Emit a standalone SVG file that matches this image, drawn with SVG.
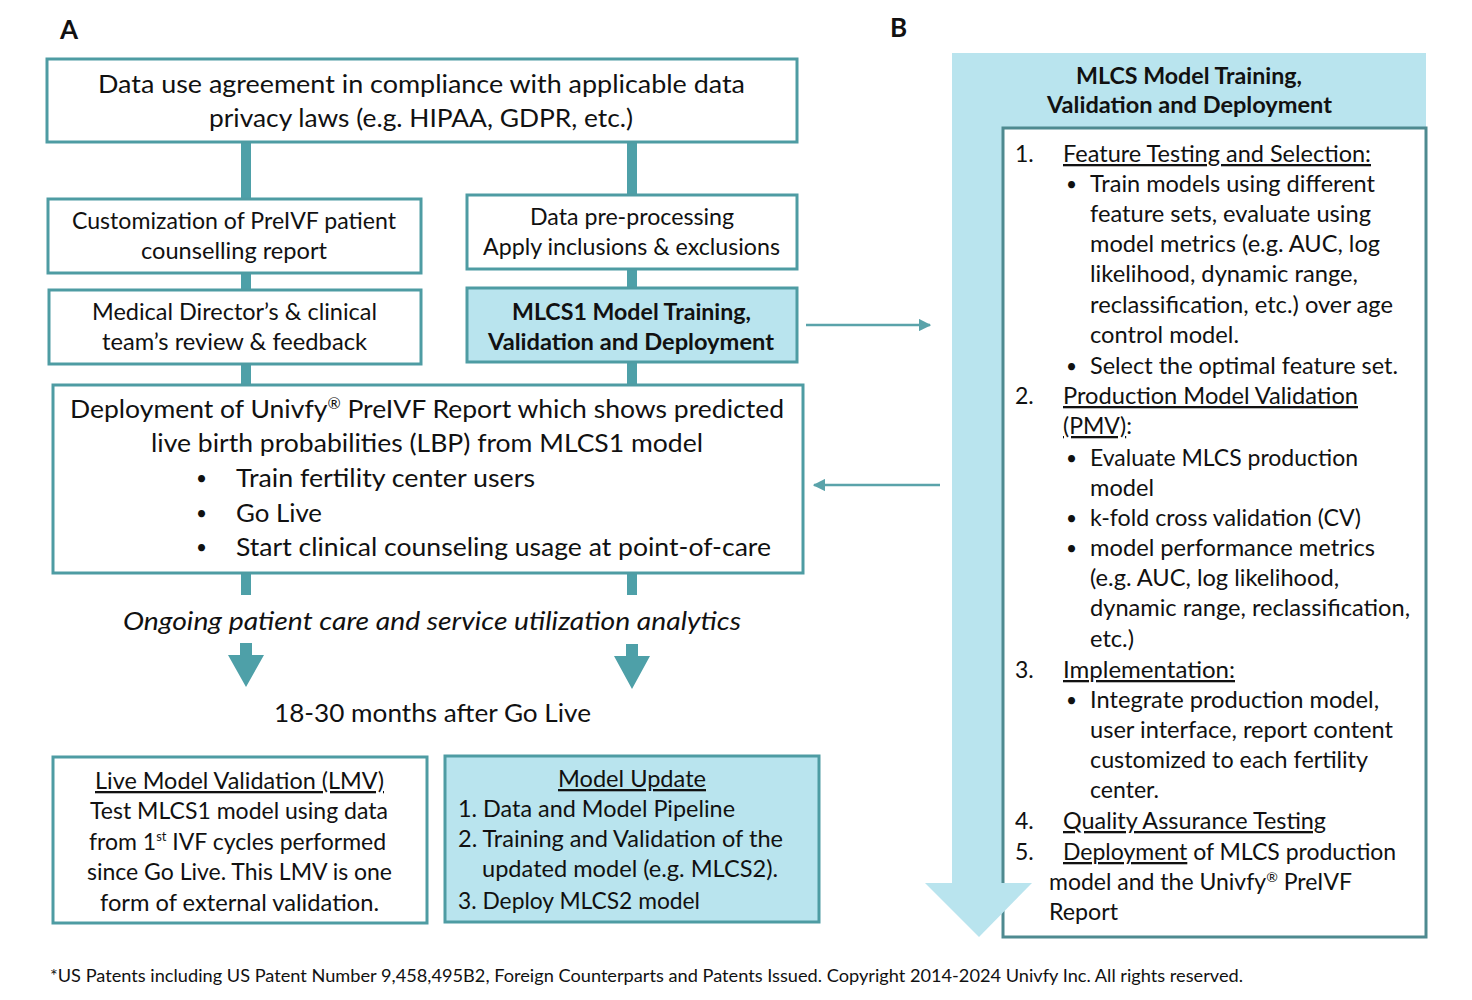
<svg xmlns="http://www.w3.org/2000/svg" width="1472" height="1000" viewBox="0 0 1472 1000">
<defs>
<style>
text{font-family:Lato,"Liberation Sans",sans-serif;fill:#111;}
.box{fill:#fff;stroke:#4e9ca3;stroke-width:3;}
.bbox{fill:#b9e4ee;stroke:#4e9ca3;stroke-width:3;}
.bar{stroke:#4ea0a8;stroke-width:10;fill:none;}
.lbl{font-size:26px;font-weight:bold;}
.t26{font-size:25px;}
.t23{font-size:23px;}
.b23{font-size:23px;font-weight:bold;}
.bt{font-size:23px;}
.bh{font-size:22px;font-weight:bold;}
.u{text-decoration:underline;}
.dot{font-size:19px;}
.conn{stroke:#5aa3aa;stroke-width:2.5;fill:none;}
</style>
<marker id="ah" viewBox="0 0 10 10" refX="9" refY="5" markerWidth="5" markerHeight="5" orient="auto">
<path d="M0,0 L10,5 L0,10 z" fill="#5aa3aa"/>
</marker>
</defs>
<rect width="1472" height="1000" fill="#fff"/>

<text class="lbl" x="60" y="39">A</text>
<text class="lbl" x="890" y="37">B</text>

<g id="connectors">
<line class="bar" x1="246" y1="142" x2="246" y2="200"/>
<line class="bar" x1="632" y1="142" x2="632" y2="196"/>
<line class="bar" x1="246" y1="273" x2="246" y2="291"/>
<line class="bar" x1="632" y1="269" x2="632" y2="289"/>
<line class="bar" x1="246" y1="364" x2="246" y2="386"/>
<line class="bar" x1="632" y1="362" x2="632" y2="386"/>
<line class="bar" x1="246" y1="573" x2="246" y2="595"/>
<line class="bar" x1="632" y1="573" x2="632" y2="595"/>
<polygon points="240,643 252,643 252,655 264,655 246,687 228,655 240,655" fill="#4ea0a8"/>
<polygon points="626,644 638,644 638,656 650,656 632,689 614,656 626,656" fill="#4ea0a8"/>
<line class="conn" x1="806" y1="325" x2="930" y2="325" marker-end="url(#ah)"/>
<line class="conn" x1="940" y1="485" x2="814" y2="485" marker-end="url(#ah)"/>
</g>

<g id="n-dua">
<rect class="box" x="47" y="59" width="750" height="83"/>
<text class="t26" x="98" y="93" textLength="647" lengthAdjust="spacingAndGlyphs">Data use agreement in compliance with applicable data</text>
<text class="t26" x="209" y="127" textLength="424" lengthAdjust="spacingAndGlyphs">privacy laws (e.g. HIPAA, GDPR, etc.)</text>
</g>

<g id="n-custom">
<rect class="box" x="48" y="199" width="373" height="74"/>
<text class="t23" x="72" y="229" textLength="324" lengthAdjust="spacingAndGlyphs">Customization of PreIVF patient</text>
<text class="t23" x="141" y="259" textLength="186" lengthAdjust="spacingAndGlyphs">counselling report</text>
</g>

<g id="n-prep">
<rect class="box" x="467" y="195" width="330" height="74"/>
<text class="t23" x="530" y="225" textLength="204" lengthAdjust="spacingAndGlyphs">Data pre-processing</text>
<text class="t23" x="483" y="255" textLength="297" lengthAdjust="spacingAndGlyphs">Apply inclusions &amp; exclusions</text>
</g>

<g id="n-review">
<rect class="box" x="49" y="290" width="372" height="74"/>
<text class="t23" x="92" y="320" textLength="285" lengthAdjust="spacingAndGlyphs">Medical Director’s &amp; clinical</text>
<text class="t23" x="102" y="350" textLength="265" lengthAdjust="spacingAndGlyphs">team’s review &amp; feedback</text>
</g>

<g id="n-mlcs1">
<rect class="bbox" x="467" y="288" width="330" height="74"/>
<text class="b23" x="512" y="320" textLength="239" lengthAdjust="spacingAndGlyphs">MLCS1 Model Training,</text>
<text class="b23" x="488" y="350" textLength="286" lengthAdjust="spacingAndGlyphs">Validation and Deployment</text>
</g>

<g id="n-deploy">
<rect class="box" x="53" y="385" width="750" height="188"/>
<text class="t26" x="70" y="418" textLength="714" lengthAdjust="spacingAndGlyphs">Deployment of Univfy<tspan font-size="15" dy="-9">®</tspan><tspan dy="9"> PreIVF Report which shows predicted</tspan></text>
<text class="t26" x="151" y="452" textLength="552" lengthAdjust="spacingAndGlyphs">live birth probabilities (LBP) from MLCS1 model</text>
<text class="t26 dot" x="196" y="485">•</text>
<text class="t26" x="236" y="487" textLength="299" lengthAdjust="spacingAndGlyphs">Train fertility center users</text>
<text class="t26 dot" x="196" y="520">•</text>
<text class="t26" x="236" y="522" textLength="86" lengthAdjust="spacingAndGlyphs">Go Live</text>
<text class="t26 dot" x="196" y="554">•</text>
<text class="t26" x="236" y="556" textLength="535" lengthAdjust="spacingAndGlyphs">Start clinical counseling usage at point-of-care</text>
</g>

<g id="n-ongoing">
<text class="t26" x="123" y="630" font-style="italic" textLength="618" lengthAdjust="spacingAndGlyphs">Ongoing patient care and service utilization analytics</text>
</g>

<g id="n-months">
<text class="t26" x="274" y="722" textLength="317" lengthAdjust="spacingAndGlyphs">18-30 months after Go Live</text>
</g>

<g id="n-lmv">
<rect class="box" x="53" y="757" width="374" height="166"/>
<text class="t23 u" x="95" y="789" textLength="289" lengthAdjust="spacingAndGlyphs">Live Model Validation (LMV)</text>
<text class="t23" x="90" y="819" textLength="298" lengthAdjust="spacingAndGlyphs">Test MLCS1 model using data</text>
<text class="t23" x="89" y="850">from 1<tspan dy="-9" font-size="13">st</tspan><tspan dy="9"> IVF cycles performed</tspan></text>
<text class="t23" x="87" y="880" textLength="305" lengthAdjust="spacingAndGlyphs">since Go Live. This LMV is one</text>
<text class="t23" x="100" y="911" textLength="279" lengthAdjust="spacingAndGlyphs">form of external validation.</text>
</g>

<g id="n-update">
<rect class="bbox" x="445" y="756" width="374" height="166"/>
<text class="t23 u" x="558" y="787" textLength="148" lengthAdjust="spacingAndGlyphs">Model Update</text>
<text class="t23" x="458" y="817" textLength="277" lengthAdjust="spacingAndGlyphs">1. Data and Model Pipeline</text>
<text class="t23" x="458" y="847" textLength="325" lengthAdjust="spacingAndGlyphs">2. Training and Validation of the</text>
<text class="t23" x="482" y="877" textLength="296" lengthAdjust="spacingAndGlyphs">updated model (e.g. MLCS2).</text>
<text class="t23" x="458" y="909" textLength="242" lengthAdjust="spacingAndGlyphs">3. Deploy MLCS2 model</text>
</g>

<g id="n-panelB">
<path d="M952,53 H1426 V128 H1003 V884 H952 Z" fill="#b9e4ee"/>
<rect x="1003" y="128" width="423" height="809" fill="#fff" stroke="#4e8a90" stroke-width="3"/>
<polygon points="925,883 1032,883 979,937" fill="#b9e4ee"/>
<text class="bh" x="1076" y="84" textLength="226" lengthAdjust="spacingAndGlyphs">MLCS Model Training,</text>
<text class="bh" x="1047" y="113" textLength="285" lengthAdjust="spacingAndGlyphs">Validation and Deployment</text>

<text class="bt" x="1015" y="162">1.</text>
<text class="bt u" x="1063" y="162" textLength="308" lengthAdjust="spacingAndGlyphs">Feature Testing and Selection:</text>
<text class="bt dot" x="1066" y="191">•</text>
<text class="bt" x="1090" y="192" textLength="285" lengthAdjust="spacingAndGlyphs">Train models using different</text>
<text class="bt" x="1090" y="222" textLength="281" lengthAdjust="spacingAndGlyphs">feature sets, evaluate using</text>
<text class="bt" x="1090" y="252" textLength="290" lengthAdjust="spacingAndGlyphs">model metrics (e.g. AUC, log</text>
<text class="bt" x="1090" y="282" textLength="268" lengthAdjust="spacingAndGlyphs">likelihood, dynamic range,</text>
<text class="bt" x="1090" y="313" textLength="303" lengthAdjust="spacingAndGlyphs">reclassification, etc.) over age</text>
<text class="bt" x="1090" y="343" textLength="149" lengthAdjust="spacingAndGlyphs">control model.</text>
<text class="bt dot" x="1066" y="373">•</text>
<text class="bt" x="1090" y="374" textLength="308" lengthAdjust="spacingAndGlyphs">Select the optimal feature set.</text>

<text class="bt" x="1015" y="404">2.</text>
<text class="bt u" x="1063" y="404" textLength="295" lengthAdjust="spacingAndGlyphs">Production Model Validation</text>
<text class="bt" x="1063" y="434"><tspan class="u">(PMV)</tspan>:</text>
<text class="bt dot" x="1066" y="465">•</text>
<text class="bt" x="1090" y="466" textLength="268" lengthAdjust="spacingAndGlyphs">Evaluate MLCS production</text>
<text class="bt" x="1090" y="496" textLength="64" lengthAdjust="spacingAndGlyphs">model</text>
<text class="bt dot" x="1066" y="525">•</text>
<text class="bt" x="1090" y="526" textLength="271" lengthAdjust="spacingAndGlyphs">k-fold cross validation (CV)</text>
<text class="bt dot" x="1066" y="555">•</text>
<text class="bt" x="1090" y="556" textLength="285" lengthAdjust="spacingAndGlyphs">model performance metrics</text>
<text class="bt" x="1090" y="586" textLength="249" lengthAdjust="spacingAndGlyphs">(e.g. AUC, log likelihood,</text>
<text class="bt" x="1090" y="616" textLength="320" lengthAdjust="spacingAndGlyphs">dynamic range, reclassification,</text>
<text class="bt" x="1090" y="647" textLength="44" lengthAdjust="spacingAndGlyphs">etc.)</text>

<text class="bt" x="1015" y="678">3.</text>
<text class="bt u" x="1063" y="678" textLength="172" lengthAdjust="spacingAndGlyphs">Implementation:</text>
<text class="bt dot" x="1066" y="707">•</text>
<text class="bt" x="1090" y="708" textLength="289" lengthAdjust="spacingAndGlyphs">Integrate production model,</text>
<text class="bt" x="1090" y="738" textLength="303" lengthAdjust="spacingAndGlyphs">user interface, report content</text>
<text class="bt" x="1090" y="768" textLength="278" lengthAdjust="spacingAndGlyphs">customized to each fertility</text>
<text class="bt" x="1090" y="798" textLength="69" lengthAdjust="spacingAndGlyphs">center.</text>

<text class="bt" x="1015" y="829">4.</text>
<text class="bt u" x="1063" y="829" textLength="263" lengthAdjust="spacingAndGlyphs">Quality Assurance Testing</text>
<text class="bt" x="1015" y="860">5.</text>
<text class="bt" x="1063" y="860"><tspan class="u">Deployment</tspan> of MLCS production</text>
<text class="bt" x="1049" y="890">model and the Univfy<tspan font-size="14" dy="-8">®</tspan><tspan dy="8"> PreIVF</tspan></text>
<text class="bt" x="1049" y="920" textLength="69" lengthAdjust="spacingAndGlyphs">Report</text>
</g>

<g id="n-footer">
<text x="50" y="982" font-size="17" textLength="1193" lengthAdjust="spacingAndGlyphs">*US Patents including US Patent Number 9,458,495B2, Foreign Counterparts and Patents Issued. Copyright 2014-2024 Univfy Inc. All rights reserved.</text>
</g>
</svg>
